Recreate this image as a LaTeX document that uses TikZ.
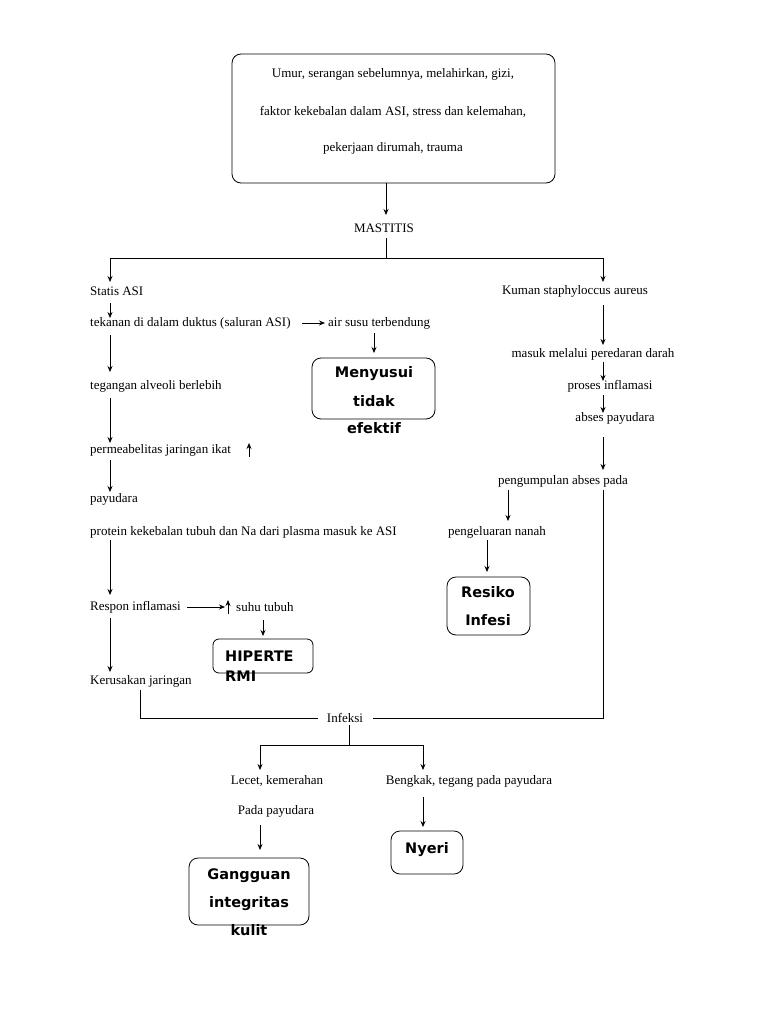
\documentclass[tikz,border=0pt]{standalone}
\usepackage{fontspec}
\setmainfont{Liberation Serif}
\newfontfamily\boxfont{DejaVu Sans}
\usetikzlibrary{arrows.meta}
\begin{document}
\begin{tikzpicture}[x=1pt,y=-1pt,
  t/.style={inner sep=0pt,font=\fontsize{13}{15}\selectfont},
  tl/.style={t,anchor=west},
  bx/.style={draw,rounded corners=9pt,line width=0.8pt},
  bt/.style={inner sep=0pt,font=\boxfont\bfseries\fontsize{14.5}{16}\selectfont},
  ar/.style={-{Stealth[length=6pt,width=5pt]},line width=0.7pt},
  ln/.style={line width=0.7pt}]
\useasboundingbox (0,0) rectangle (768,1024);
% top box
\draw[bx] (232,54) rectangle (555,183);
\node[t] (u1) at (393,74) {Umur, serangan sebelumnya, melahirkan, gizi,};
\node[t] (u2) at (393,112) {faktor kekebalan dalam ASI, stress dan kelemahan,};
\node[t] (u3) at (393,148) {pekerjaan dirumah, trauma};
\node[t] (mas) at (384,228) {MASTITIS};
\draw[ar] (386,183) -- (386,215);
\draw[ln] (386,238) -- (386,258);
\draw[ln] (110,258) -- (603,258);
\draw[ar] (110,258) -- (110,282);
\draw[ar] (603,258) -- (603,282);
% left column
\node[tl] (sa) at (90,291) {Statis ASI};
\node[tl] (tk) at (90,323) {tekanan di dalam duktus (saluran ASI)};
\node[tl] (as) at (328,323) {air susu terbendung};
\node[tl] (tg) at (90,386) {tegangan alveoli berlebih};
\node[tl] (pm) at (90,450) {permeabelitas jaringan ikat};
\node[tl] (py) at (90,499) {payudara};
\node[tl] (pr) at (90,532) {protein kekebalan tubuh dan Na dari plasma masuk ke ASI};
\node[tl] (ri) at (90,607) {Respon inflamasi};
\node[tl] (sh) at (236,607) {suhu tubuh};
\node[tl] (kj) at (90,681) {Kerusakan jaringan};
\draw[ar] (110,303) -- (110,318);
\draw[ar] (302,323) -- (325,323);
\draw[ar] (374,333) -- (374,353);
\draw[ar] (110,335) -- (110,372);
\draw[ar] (110,398) -- (110,443);
\draw[ar] (249,457) -- (249,443);
\draw[ar] (110,460) -- (110,492);
\draw[ar] (110,540) -- (110,595);
\draw[ar] (187,607) -- (225,607);
\draw[ar] (228,614) -- (228,600);
\draw[ar] (263,620) -- (263,636);
\draw[ar] (110,618) -- (110,672);
\draw[bx] (312,358) rectangle (435,419);
\node[bt] (m1) at (374,374) {Menyusui};
\node[bt] (m2) at (374,401) {tidak};
\node[bt] (m3) at (374,428) {efektif};
\draw[bx,rounded corners=6pt] (213,639) rectangle (313,673);
\node[bt,anchor=west] (h1) at (225,656) {HIPERTE};
\node[bt,anchor=west] (h2) at (225,676) {RMI};
% right column
\node[t] (ku) at (575,291) {Kuman staphyloccus aureus};
\node[t] (mm) at (593,354) {masuk melalui peredaran darah};
\node[t] (pi) at (610,386) {proses inflamasi};
\node[t] (ab) at (615,418) {abses payudara};
\node[t] (pg) at (563,481) {pengumpulan abses pada};
\node[t] (pn) at (497,532) {pengeluaran nanah};
\draw[ar] (603,305) -- (603,345);
\draw[ar] (603,362) -- (603,381);
\draw[ar] (603,395) -- (603,413);
\draw[ar] (603,437) -- (603,470);
\draw[ar] (508,490) -- (508,521);
\draw[ar] (487,540) -- (487,572);
\draw[bx] (447,577) rectangle (530,635);
\node[bt] (r1) at (488,592) {Resiko};
\node[bt] (r2) at (488,620) {Infesi};
% infeksi
\node[t] (inf) at (345,718) {Infeksi};
\draw[ln] (140,690) -- (140,718) -- (318,718);
\draw[ln] (373,718) -- (603,718) -- (603,490);
\draw[ln] (349,725) -- (349,745);
\draw[ln] (260,745) -- (423,745);
\draw[ar] (260,745) -- (260,770);
\draw[ar] (423,745) -- (423,770);
\node[t] (lc) at (277,781) {Lecet, kemerahan};
\node[t] (pp) at (276,811) {Pada payudara};
\node[t] (bk) at (469,781) {Bengkak, tegang pada payudara};
\draw[ar] (260,825) -- (260,850);
\draw[ar] (423,797) -- (423,827);
\draw[bx] (189,858) rectangle (309,925);
\node[bt] (g1) at (249,876) {Gangguan};
\node[bt] (g2) at (249,904) {integritas};
\node[bt] (g3) at (249,930) {kulit};
\draw[bx] (391,831) rectangle (463,874);
\node[bt] (ny) at (427,850) {Nyeri};
\end{tikzpicture}
\end{document}
